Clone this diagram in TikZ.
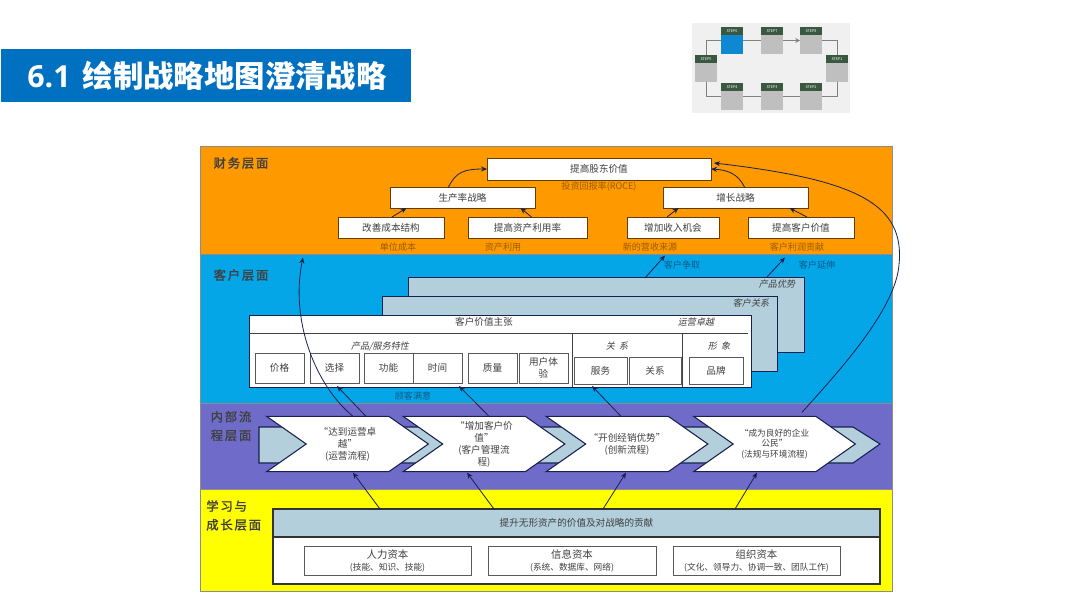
\documentclass[tikz,border=0pt]{standalone}
\usepackage{fontspec}
\setmainfont{Noto Sans CJK SC}
\newfontfamily\numfont{Open Sans}
\newfontfamily\slantcjk[FakeSlant=0.2]{Noto Sans CJK SC}
\newfontfamily\layercjk[LetterSpace=14,FakeBold=1.5]{Noto Sans CJK SC}
\newcommand{\subcapfont}{\fontsize{6.5pt}{7pt}\selectfont}
\usetikzlibrary{calc,shapes.symbols,arrows.meta}
\definecolor{finorange}{HTML}{FF9900}
\definecolor{custblue}{HTML}{05A6E8}
\definecolor{procviolet}{HTML}{6F6CC9}
\definecolor{learnyellow}{HTML}{FFFF00}
\definecolor{greyblue}{HTML}{B2CFDB}
\definecolor{linenavy}{HTML}{17204F}
\definecolor{textgrey}{HTML}{404040}
\definecolor{finlabel}{HTML}{9A5C00}
\definecolor{custlabel}{HTML}{0B5C8C}
\definecolor{stepgreen}{HTML}{3A5740}
\tikzset{
  boxsize/.style 2 args={minimum width=#1*0.75pt,minimum height=#2*0.75pt,anchor=north west,inner sep=0pt,outer sep=0pt},
  band/.style={draw=black!45,line width=0.6pt},
  smalltext/.style={font=\fontsize{7.2pt}{9pt}\selectfont,text=textgrey,align=center},
  finbox/.style={draw=black!60!finorange,fill=white,line width=0.65pt,smalltext},
  cellbox/.style={draw=black!65,fill=white,line width=0.65pt,smalltext},
  capbox/.style={cellbox,font=\fontsize{7.8pt}{9pt}\selectfont},
  finlab/.style={font=\fontsize{6.8pt}{8pt}\selectfont,text=finlabel},
  custlab/.style={font=\fontsize{6.8pt}{8pt}\selectfont,text=custlabel},
  slantlab/.style={font=\fontsize{6.8pt}{8pt}\selectfont\slantcjk,text=textgrey},
  layerlab/.style={font=\fontsize{9.3pt}{14pt}\selectfont\layercjk,text=black!75,align=left,inner sep=0pt},
  stack/.style={draw=linenavy,fill=greyblue,line width=0.7pt},
  procbar/.style={draw=linenavy,fill=greyblue,line width=0.8pt},
  chevron/.style={signal,signal from=west,signal to=east,signal pointer angle=70,draw=linenavy,fill=white,line width=0.8pt,inner sep=0pt,outer sep=0pt,minimum width=117pt,minimum height=41.5pt,text width=62pt,smalltext},
  link/.style={-{Stealth[length=4.5pt,width=3.8pt]},draw=linenavy,line width=0.6pt},
  stepbody/.style={boxsize={22}{#1},fill=black!25,draw=none},
  stephead/.style={boxsize={22}{7.5},fill=stepgreen,text=white,font=\fontsize{2.8pt}{3pt}\selectfont},
  steplink/.style={draw=black!50,line width=0.6pt}
}
\begin{document}
\begin{tikzpicture}[x=0.75pt,y=0.75pt,yscale=-1]
\useasboundingbox (0,0) rectangle (1080,608);
\fill[white] (0,0) rectangle (1080,608);
\node[boxsize={410}{53},fill={rgb,255:red,0;green,112;blue,192}] (titlebar) at (1,49) {};
\node[anchor=west,inner sep=0pt,text=white,font=\fontsize{22.8pt}{28pt}\selectfont\bfseries] (titletext) at (27,76) {{\numfont\bfseries 6.1}\hspace{9pt}绘制战略地图澄清战略};
\node[boxsize={158}{90},fill=black!6] (thumbback) at (692,23) {};
\node[stepbody=27,fill=cyan!70!blue] (bodysix) at (721,27) {};
\node[stepbody=27] (bodyseven) at (761,27) {};
\node[stepbody=27] (bodyeight) at (800,27) {};
\node[stepbody=27] (bodyone) at (826,55) {};
\node[stepbody=27] (bodyfive) at (695,55) {};
\node[stepbody=27] (bodyfour) at (721,83) {};
\node[stepbody=27] (bodythree) at (761,83) {};
\node[stepbody=27] (bodytwo) at (800,83) {};
\node[stephead] (headsix) at (721,27) {STEP6};
\node[stephead] (headseven) at (761,27) {STEP7};
\node[stephead] (headeight) at (800,27) {STEP8};
\node[stephead] (headone) at (826,55) {STEP1};
\node[stephead] (headfive) at (695,55) {STEP5};
\node[stephead] (headfour) at (721,83) {STEP4};
\node[stephead] (headthree) at (761,83) {STEP3};
\node[stephead] (headtwo) at (800,83) {STEP2};
\draw[steplink] (headfive.north) |- (bodysix.west);
\draw[steplink] (bodysix.east) -- (bodyseven.west);
\draw[steplink,-stealth] (bodyseven.east) -- (bodyeight.west);
\draw[steplink] (bodyeight.east) -| (headone.north);
\draw[steplink] (bodyone.south) |- (bodytwo.east);
\draw[steplink] (bodytwo.west) -- (bodythree.east);
\draw[steplink] (bodythree.west) -- (bodyfour.east);
\draw[steplink] (bodyfour.west) -| (bodyfive.south);
\node[boxsize={692}{108.5},band,fill=finorange] (finband) at (200,146) {};
\node[boxsize={692}{148.5},band,fill=custblue] (custband) at (200,254.5) {};
\node[boxsize={692}{86.5},band,fill=procviolet] (procband) at (200,403) {};
\node[boxsize={692}{102},band,fill=learnyellow] (learnband) at (200,489.5) {};
\node[layerlab] (finname) at (241,163) {财务层面};
\node[layerlab] (custname) at (241,275) {客户层面};
\node[layerlab] (procname) at (231,426) {内部流\\程层面};
\node[layerlab,anchor=north west] (learnname) at (206,500) {学习与\\成长层面};
\node[boxsize={224}{22},finbox] (topgoal) at (487,158) {提高股东价值};
\node[boxsize={145}{21},finbox] (prodgoal) at (390,187) {生产率战略};
\node[boxsize={145}{21},finbox] (growgoal) at (663,187) {增长战略};
\node[boxsize={106}{21},finbox] (costbox) at (338,217) {改善成本结构};
\node[boxsize={119}{21},finbox] (assetbox) at (468,217) {提高资产利用率};
\node[boxsize={92}{21},finbox] (incomebox) at (627,217) {增加收入机会};
\node[boxsize={106}{21},finbox] (valuebox) at (748,217) {提高客户价值};
\node[finlab] (roce) at (599,187) {投资回报率(ROCE)};
\node[finlab] (unitcost) at (398,247) {单位成本};
\node[finlab] (assetuse) at (503,247) {资产利用};
\node[finlab] (newrev) at (650,247) {新的营收来源};
\node[finlab] (profit) at (797,247) {客户利润贡献};
\node[custlab] (winname) at (682,265) {客户争取};
\node[custlab] (extname) at (817,265) {客户延伸};
\node[boxsize={396}{75},stack] (stackback) at (408,277) {};
\node[boxsize={395}{75},stack] (stackmid) at (382,296) {};
\node[slantlab] (advname) at (777,284) {产品优势};
\node[slantlab] (relname) at (751,303) {客户关系};
\node[boxsize={502}{72},draw=linenavy,fill=white,line width=0.7pt] (frontbox) at (249,315) {};
\draw[line width=0.7pt,draw=black!75] (frontbox.west |- 0,333) -- (748,333);
\draw[line width=0.7pt,draw=black!75] (572,333) -- (frontbox.south -| 572,0);
\draw[line width=0.7pt,draw=black!75] (682,333) -- (frontbox.south -| 682,0);
\node[smalltext] (valuehead) at (484,322) {客户价值主张};
\node[slantlab] (opname) at (696,322) {运营卓越};
\node[slantlab] (attrname) at (380,346) {产品/服务特性};
\node[slantlab] (linkname) at (617,346) {关\ \ 系};
\node[slantlab] (imagename) at (719,346) {形\ \ 象};
\node[boxsize={49}{30},cellbox] (price) at (255,353) {价格};
\node[boxsize={49}{30},cellbox] (choice) at (310,353) {选择};
\node[boxsize={49}{30},cellbox] (func) at (364,353) {功能};
\node[boxsize={49}{30},cellbox] (timecell) at (413,353) {时间};
\node[boxsize={49}{30},cellbox] (quality) at (468,353) {质量};
\node[boxsize={49}{30},cellbox] (usercell) at (519,353) {用户体\\验};
\node[boxsize={53}{27},cellbox] (service) at (574,357) {服务};
\node[boxsize={52}{27},cellbox] (relation) at (629,357) {关系};
\node[boxsize={54}{27},cellbox] (brand) at (689,357) {品牌};
\node[custlab] (satisfied) at (413,396) {顾客满意};
\draw[procbar] (259,427) -- (425,427) -- (445,444) -- (425,463) -- (259,463) -- cycle;
\draw[procbar] (500,427) -- (565,427) -- (587,444) -- (565,463) -- (500,463) -- cycle;
\draw[procbar] (650,427) -- (713,427) -- (735,444) -- (713,463) -- (650,463) -- cycle;
\draw[procbar] (800,427) -- (853,427) -- (880,444) -- (853,463) -- (800,463) -- cycle;
\node[chevron] (chevone) at (347.5,444) {“达到运营卓\\越”\\(运营流程)};
\node[chevron] (chevtwo) at (484,444) {“增加客户价\\值”\\(客户管理流\\程)};
\node[chevron] (chevthree) at (627,444) {“开创经销优势”\\(创新流程)};
\node[chevron,font=\fontsize{6.5pt}{7.8pt}\selectfont] (chevfour) at (774.5,444) {“成为良好的企业\\公民”\\(法规与环境流程)};
\node[boxsize={607}{75},draw=black!80,fill=white,line width=0.8pt] (learnbox) at (273,509) {};
\node[boxsize={607}{28},draw=black!80,fill=greyblue,line width=0.8pt,smalltext] (learnhead) at (273,509) {提升无形资产的价值及对战略的贡献};
\node[boxsize={167}{29},capbox] (human) at (304,546) {人力资本\\{\subcapfont (技能、知识、技能)}};
\node[boxsize={168}{29},capbox] (info) at (488,546) {信息资本\\{\subcapfont (系统、数据库、网络)}};
\node[boxsize={167}{29},capbox] (org) at (673,546) {组织资本\\{\subcapfont (文化、领导力、协调一致、团队工作)}};
\draw[link] ($(costbox.north)+(1,0)$) -- ($(prodgoal.south)+(-56,0)$);
\draw[link] ($(assetbox.north)+(4,0)$) -- ($(prodgoal.south)+(58,0)$);
\draw[link] ($(incomebox.north)+(-6,0)$) -- ($(growgoal.south)+(-57,0)$);
\draw[link] ($(valuebox.north)+(6,0)$) -- ($(growgoal.south)+(54,0)$);
\draw[link] ($(prodgoal.north)+(-14,0)$) .. controls (456,172) and (464,169) .. (topgoal.west);
\draw[link] ($(growgoal.north)+(9,0)$) .. controls (738,174) and (728,170) .. (topgoal.east);
\draw[link] ($(stackback.north)+(39,1)$) -- ($(finband.south)+(119,1)$);
\draw[link] ($(stackback.north)+(161,0)$) -- ($(finband.south)+(239,3)$);
\draw[link] ($(chevone.north)+(5.5,0)$) .. controls (315,385) and (290,320) .. ($(finband.south west)+(103,3)$);
\draw[link] ($(chevone.north)+(18.5,0)$) -- ($(choice.south)+(2.5,3)$);
\draw[link] ($(chevtwo.north)+(5,0)$) -- ($(timecell.south)+(21.5,3)$);
\draw[link] ($(chevthree.north)+(-6,0)$) -- ($(service.south)+(-8.5,2)$);
\draw[link] ($(chevfour.north)+(27.5,-4)$) .. controls (840,370) and (895,310) .. (899,265) .. controls (905,205) and (860,180) .. ($(topgoal.east)+(3,-6)$);
\draw[link] ($(learnhead.north)+(-196.5,0)$) -- ($(chevone.south)+(5.5,1)$);
\draw[link] ($(learnhead.north)+(-82.5,0)$) -- ($(chevtwo.south)+(-17,1)$);
\draw[link] ($(learnhead.north)+(26.5,0)$) -- ($(chevthree.south)+(-1,1)$);
\draw[link] ($(learnhead.north)+(158.5,0)$) -- ($(chevfour.south)+(-17.5,1)$);
\end{tikzpicture}
\end{document}
